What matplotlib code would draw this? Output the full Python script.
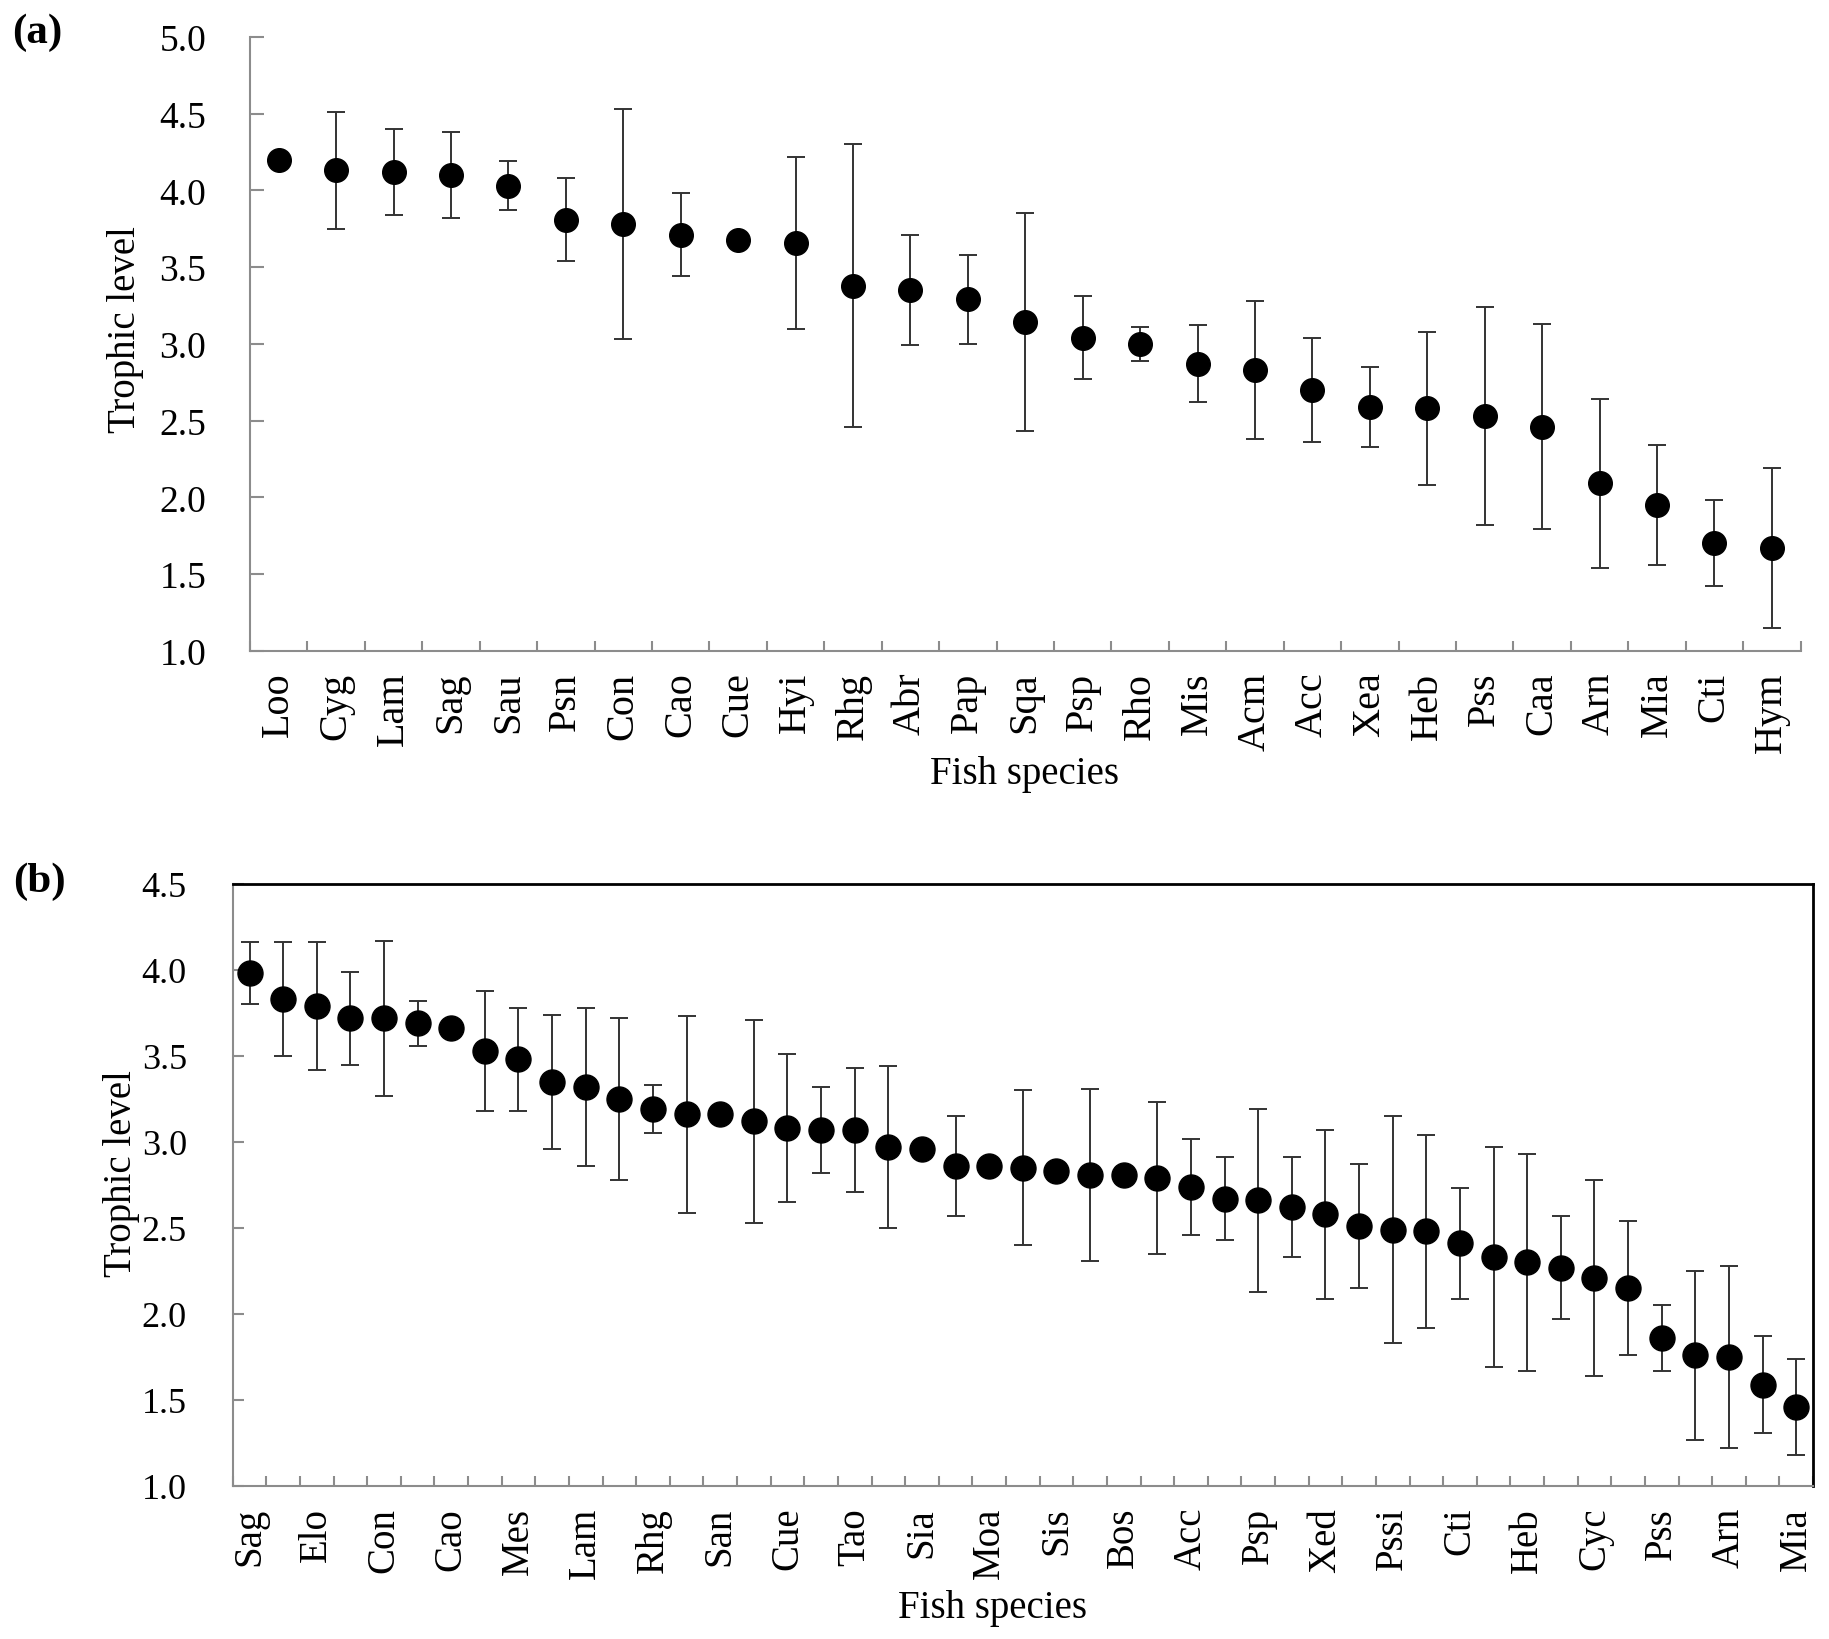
import matplotlib
matplotlib.use("Agg")
import matplotlib.pyplot as plt
import numpy as np

plt.rcParams['font.family'] = ['Liberation Serif', 'DejaVu Serif']

# ---------------- Data: panel (a) ----------------
species_a = ["Loo", "Cyg", "Lam", "Sag", "Sau", "Psn", "Con", "Cao", "Cue", "Hyi",
             "Rhg", "Abr", "Pap", "Sqa", "Psp", "Rho", "Mis", "Acm", "Acc", "Xea",
             "Heb", "Pss", "Caa", "Arn", "Mia", "Cti", "Hym"]
trophic_a = [4.20, 4.13, 4.12, 4.10, 4.03, 3.81, 3.78, 3.71, 3.68, 3.66,
             3.38, 3.35, 3.29, 3.14, 3.04, 3.00, 2.87, 2.83, 2.70, 2.59,
             2.58, 2.53, 2.46, 2.09, 1.95, 1.70, 1.67]
sd_a = [0.00, 0.38, 0.28, 0.28, 0.16, 0.27, 0.75, 0.27, 0.00, 0.56,
        0.92, 0.36, 0.29, 0.71, 0.27, 0.11, 0.25, 0.45, 0.34, 0.26,
        0.50, 0.71, 0.67, 0.55, 0.39, 0.28, 0.52]
yticks_a = [1.0, 1.5, 2.0, 2.5, 3.0, 3.5, 4.0, 4.5, 5.0]

# ---------------- Data: panel (b) ----------------
# 47 species; only every other one is labelled on the axis
labels_b = ["Sag", "Elo", "Con", "Cao", "Mes", "Lam", "Rhg", "San", "Cue", "Tao",
            "Sia", "Moa", "Sis", "Bos", "Acc", "Psp", "Xed", "Pssi", "Cti", "Heb",
            "Cyc", "Pss", "Arn", "Mia"]
trophic_b = [3.98, 3.83, 3.79, 3.72, 3.72, 3.69, 3.66, 3.53, 3.48, 3.35,
             3.32, 3.25, 3.19, 3.16, 3.16, 3.12, 3.08, 3.07, 3.07, 2.97,
             2.96, 2.86, 2.86, 2.85, 2.83, 2.81, 2.81, 2.79, 2.74, 2.67,
             2.66, 2.62, 2.58, 2.51, 2.49, 2.48, 2.41, 2.33, 2.30, 2.27,
             2.21, 2.15, 1.86, 1.76, 1.75, 1.59, 1.46]
sd_b = [0.18, 0.33, 0.37, 0.27, 0.45, 0.13, 0.04, 0.35, 0.30, 0.39,
        0.46, 0.47, 0.14, 0.57, 0.00, 0.59, 0.43, 0.25, 0.36, 0.47,
        0.00, 0.29, 0.00, 0.45, 0.00, 0.50, 0.00, 0.44, 0.28, 0.24,
        0.53, 0.29, 0.49, 0.36, 0.66, 0.56, 0.32, 0.64, 0.63, 0.30,
        0.57, 0.39, 0.19, 0.49, 0.53, 0.28, 0.28]
yticks_b = [1.0, 1.5, 2.0, 2.5, 3.0, 3.5, 4.0, 4.5]

# ---------------- Figure ----------------
W, H = 1829, 1640
fig = plt.figure(figsize=(W / 100, H / 100), dpi=100)


def fx(px):
    return px / W


def fy(py):
    return 1 - py / H


GRAY = '#8c8c8c'
ECOL = '#333333'

# ----- Panel (a) -----
axA = fig.add_axes([fx(250), fy(651.7), (1800.5 - 250) / W, (651.7 - 38) / H])
xa = np.arange(len(species_a))
axA.errorbar(xa, trophic_a, yerr=sd_a, fmt='o', color='black', ms=17,
             ecolor=ECOL, elinewidth=1.4, capsize=6.5, capthick=1.4, zorder=3)
axA.set_xlim(-0.5, len(species_a) - 0.5)
axA.set_ylim(1.0, 5.0)
axA.set_yticks(yticks_a)
axA.set_yticklabels([f"{v:.1f}" for v in yticks_a])
axA.set_xticks(xa)
axA.set_xticklabels(species_a, rotation=90)
axA.set_xticks(np.arange(-0.5, len(species_a), 1.0), minor=True)
for s in ['top', 'right']:
    axA.spines[s].set_visible(False)
for s in ['left', 'bottom']:
    axA.spines[s].set_color(GRAY)
    axA.spines[s].set_linewidth(1.5)
axA.tick_params(axis='y', direction='in', length=10, width=1.5, color=GRAY,
                pad=31.5, labelsize=27)
axA.tick_params(axis='x', which='major', length=0, pad=15, labelsize=29)
axA.tick_params(axis='x', which='minor', direction='in', length=7.5, width=1.5,
                color=GRAY)

fig.text(fx(126), fy(329.5), 'Trophic level', rotation=90, ha='center',
         va='center', fontsize=28)
fig.text(fx(1025), fy(784), 'Fish species', ha='center', va='baseline',
         fontsize=28)
fig.text(fx(12), fy(33), '(a)', ha='left', va='center', fontsize=31,
         fontweight='bold')

# ----- Panel (b) -----
axB = fig.add_axes([fx(232.7), fy(1487), (1813 - 232.7) / W, (1487 - 885) / H])
xb = np.arange(len(trophic_b))
axB.errorbar(xb, trophic_b, yerr=sd_b, fmt='o', color='black', ms=18,
             ecolor=ECOL, elinewidth=1.4, capsize=6.5, capthick=1.4, zorder=3)
axB.set_xlim(-0.5, len(trophic_b) - 0.5)
axB.set_ylim(1.0, 4.5)
axB.set_yticks(yticks_b)
axB.set_yticklabels([f"{v:.1f}" for v in yticks_b])
axB.set_xticks(xb[::2])
axB.set_xticklabels(labels_b, rotation=90)
axB.set_xticks(np.arange(-0.5, len(trophic_b), 1.0), minor=True)
for s in ['left', 'bottom']:
    axB.spines[s].set_color(GRAY)
    axB.spines[s].set_linewidth(1.5)
for s in ['top', 'right']:
    axB.spines[s].set_color('black')
    axB.spines[s].set_linewidth(2)
axB.tick_params(axis='y', direction='in', length=8, width=1.5, color=GRAY,
                pad=33, labelsize=26)
axB.tick_params(axis='x', which='major', length=0, pad=15, labelsize=28)
axB.tick_params(axis='x', which='minor', direction='in', length=7.5, width=1.5,
                color=GRAY)

fig.text(fx(122), fy(1174), 'Trophic level', rotation=90, ha='center',
         va='center', fontsize=28)
fig.text(fx(993), fy(1618), 'Fish species', ha='center', va='baseline',
         fontsize=28)
fig.text(fx(13), fy(882), '(b)', ha='left', va='center', fontsize=31,
         fontweight='bold')

fig.savefig('out.png', dpi=100)
